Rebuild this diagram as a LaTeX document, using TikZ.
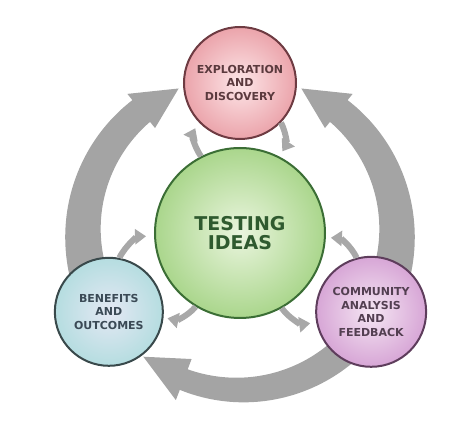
\documentclass[tikz,border=0pt]{standalone}
\usepackage{fontspec}
\setsansfont{DejaVu Sans}
\usetikzlibrary{arrows.meta}
\definecolor{arrowgray}{RGB}{164,164,164}
\definecolor{smallgray}{RGB}{168,168,168}
\definecolor{testline}{RGB}{59,110,53}
\definecolor{testtext}{RGB}{47,90,47}
\definecolor{exploreline}{RGB}{110,59,66}
\definecolor{exploretext}{RGB}{91,58,62}
\definecolor{benefitline}{RGB}{57,73,75}
\definecolor{benefittext}{RGB}{59,74,86}
\definecolor{commline}{RGB}{94,61,92}
\definecolor{commtext}{RGB}{83,63,81}
\tikzset{
  bubble/.style={circle, draw, line width=2pt, inner sep=0pt, align=center,
    shade, shading=radial, font=\sffamily\bfseries\fontsize{11}{13.5}\selectfont},
  bigarrow/.style={fill=arrowgray},
  smallarrow/.style={draw=smallgray, line width=6pt, -{Triangle[width=15pt,length=11pt]}}
}
\begin{document}
\begin{tikzpicture}[x=1pt, y=1pt]
    \useasboundingbox (-240,-200) rectangle (234,233);
    \foreach \a/\b/\t/\wa/\wb in {211/129/113/40/28, -31/51/67/40/28, -31/-111/-128/32/22}
        \fill[bigarrow] plot[domain=\a:\b, samples=50] (\x:{157+(\wa+(\wb-\wa)*(\x-\a)/(\b-\a))/2})
            -- (\b:179) -- (\t:157) -- (\b:135)
            -- plot[domain=\b:\a, samples=50] (\x:{157-(\wa+(\wb-\wa)*(\x-\a)/(\b-\a))/2}) -- cycle;
    \node[bubble, minimum size=170pt, draw=testline, text=testtext, inner color={rgb,255:red,234;green,245;blue,222},
        outer color={rgb,255:red,170;green,214;blue,140}, font=\sffamily\bfseries\fontsize{19}{19}\selectfont]
        (testing) at (0,0) {TESTING\\IDEAS};
    \node[bubble, minimum size=112pt, draw=exploreline, text=exploretext, inner color={rgb,255:red,253;green,230;blue,232},
        outer color={rgb,255:red,235;green,164;blue,171}] (explore) at (90:150) {EXPLORATION\\AND\\DISCOVERY};
    \node[bubble, minimum size=108pt, draw=benefitline, text=benefittext, inner color={rgb,255:red,228;green,232;blue,244},
        outer color={rgb,255:red,181;green,221;blue,224}] (benefits) at (211:153) {BENEFITS\\AND\\OUTCOMES};
    \node[bubble, minimum size=110pt, draw=commline, text=commtext, inner color={rgb,255:red,245;green,230;blue,243},
        outer color={rgb,255:red,215;green,166;blue,214}] (community) at (-31:153) {COMMUNITY\\ANALYSIS\\AND\\FEEDBACK};
    \draw[smallarrow, shorten >=7pt] (testing.117) to[bend left=30] (explore.223);
    \draw[smallarrow, shorten >=6pt] (explore.316) to[bend left=30] (testing.63);
    \draw[smallarrow, shorten >=8pt] (benefits.79) to[bend left=30] (testing.182);
    \draw[smallarrow, shorten >=4pt] (testing.239) to[bend left=30] (benefits.354);
    \draw[smallarrow, shorten >=5pt] (community.105) to[bend right=30] (testing.357);
    \draw[smallarrow, shorten >=6pt] (testing.299) to[bend right=30] (community.191);
\end{tikzpicture}
\end{document}
